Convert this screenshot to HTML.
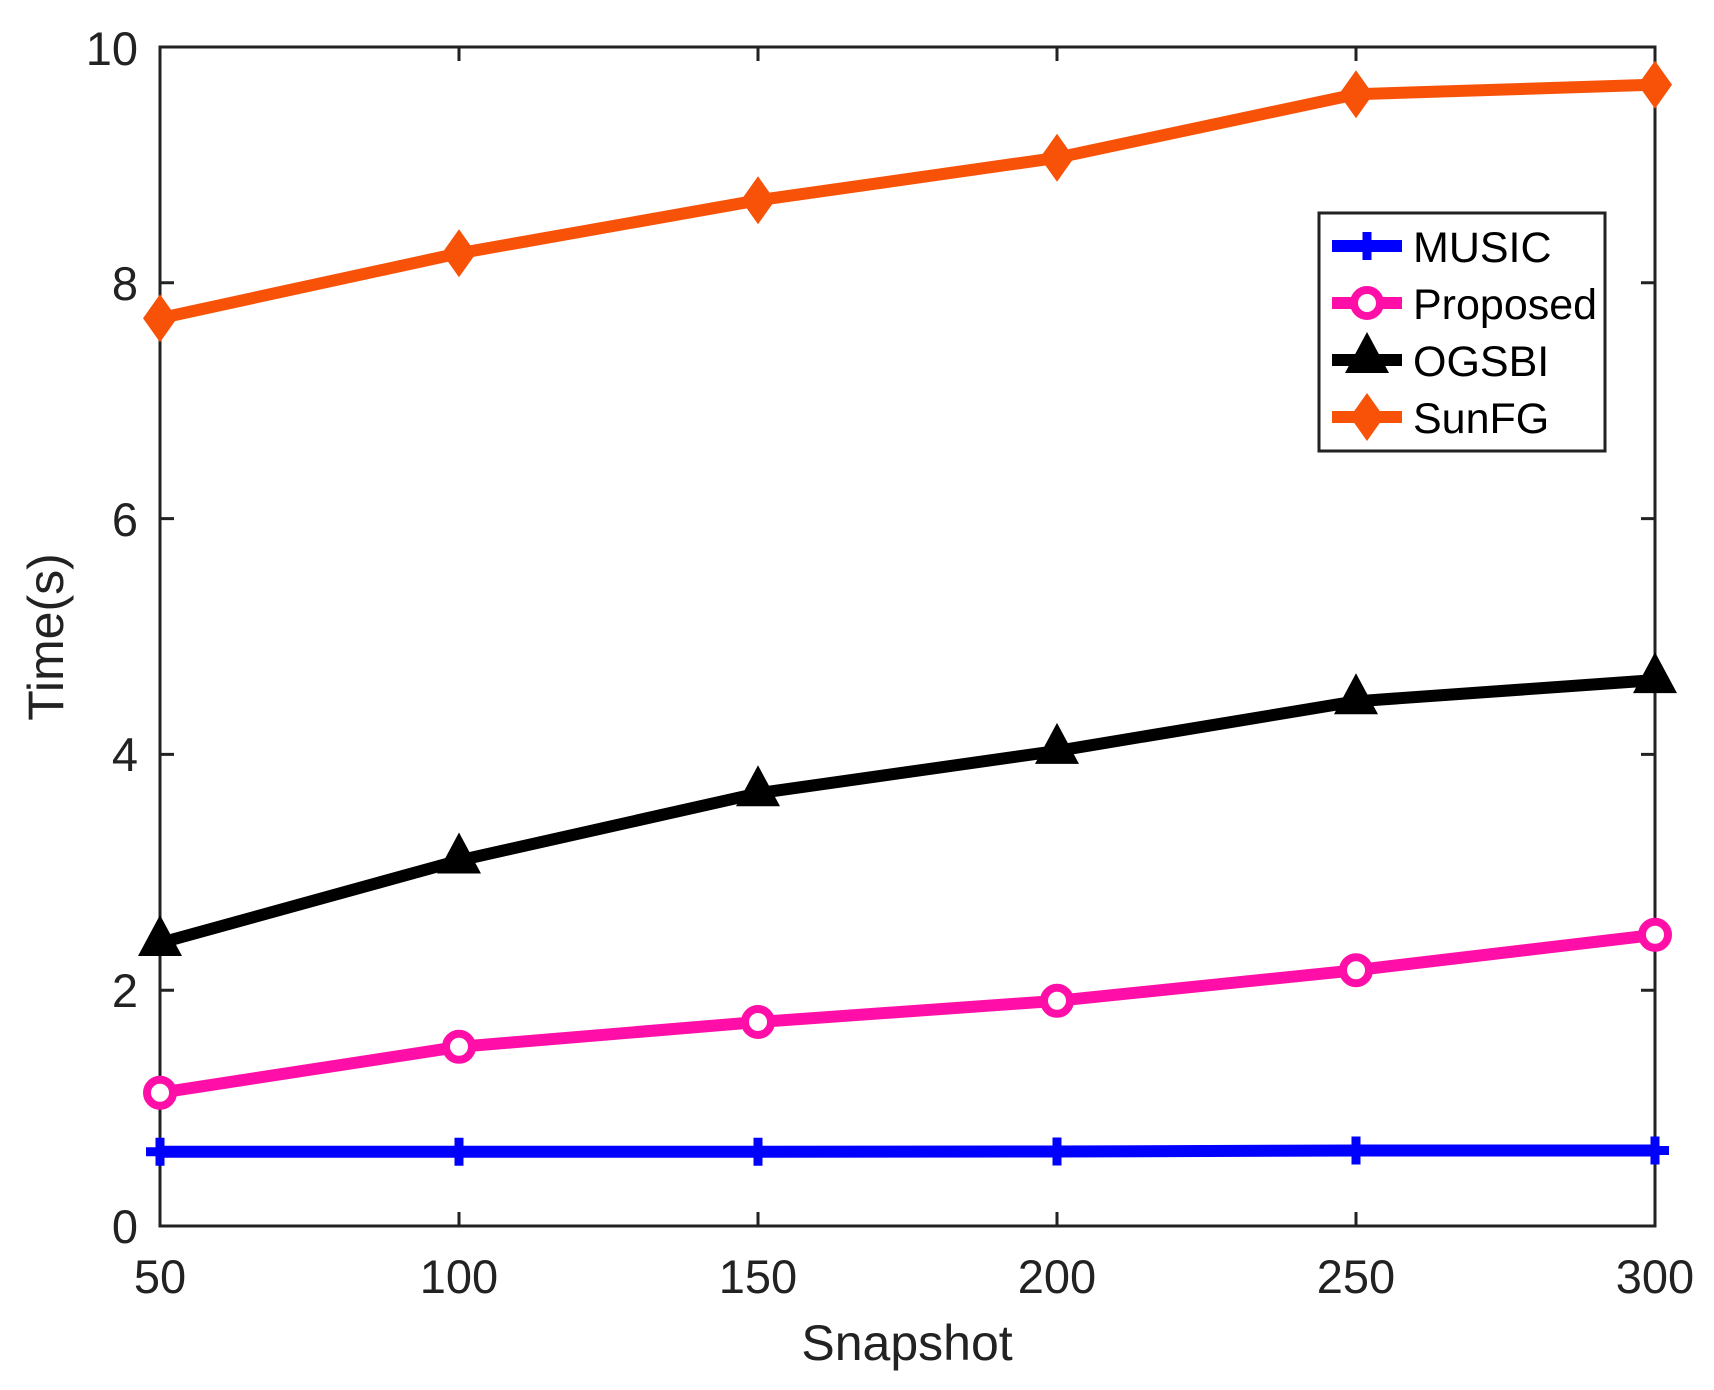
<!DOCTYPE html>
<html><head><meta charset="utf-8"><style>
html,body{margin:0;padding:0;background:#fff;}
svg{display:block;font-family:"Liberation Sans",Arial,sans-serif;}
</style></head><body>
<svg id="s" width="1714" height="1390" viewBox="0 0 1714 1390" xmlns="http://www.w3.org/2000/svg">
<rect width="1714" height="1390" fill="#fff"/>
<g stroke="#222" stroke-width="3" fill="none">
<rect x="160" y="47" width="1495" height="1179"/>
<path d="M459 1226v-14M758 1226v-14M1057 1226v-14M1356 1226v-14M459 47v14M758 47v14M1057 47v14M1356 47v14
M160 990.2h14M160 754.4h14M160 518.6h14M160 282.8h14M1655 990.2h-14M1655 754.4h-14M1655 518.6h-14M1655 282.8h-14"/>
</g>
<g fill="#222" font-size="47" text-anchor="middle">
<text x="160" y="1293">50</text><text x="459" y="1293">100</text><text x="758" y="1293">150</text>
<text x="1057" y="1293">200</text><text x="1356" y="1293">250</text><text x="1655" y="1293">300</text>
</g>
<g fill="#222" font-size="47" text-anchor="end">
<text x="138" y="1243">0</text><text x="138" y="1007">2</text><text x="138" y="771">4</text>
<text x="138" y="536">6</text><text x="138" y="300">8</text><text x="138" y="65">10</text>
</g>
<text x="907" y="1360" font-size="50" text-anchor="middle" fill="#222">Snapshot</text>
<text transform="translate(63,637) rotate(-90)" font-size="50" text-anchor="middle" fill="#222">Time(s)</text>
<g id="data"></g>
<rect x="1319" y="213" width="286" height="238" fill="#fff" stroke="#222" stroke-width="3"/>
<g id="leg"></g>
<g font-size="43" fill="#000">
<text x="1413" y="262">MUSIC</text><text x="1413" y="319">Proposed</text>
<text x="1413" y="376">OGSBI</text><text x="1413" y="433">SunFG</text>
</g>
</svg>
<script>
var NS="http://www.w3.org/2000/svg";
function el(p,t,a){var e=document.createElementNS(NS,t);for(var k in a)e.setAttribute(k,a[k]);p.appendChild(e);return e;}
var xs=[160,459,758,1057,1356,1655];
var series=[
 {c:"#0000ff",m:"plus",y:[1151.7,1151.7,1151.7,1151.5,1150.5,1150.5]},
 {c:"#ff0fa8",m:"circ",y:[1092.8,1046.8,1022.0,1000.8,970.2,934.8]},
 {c:"#000000",m:"tri",y:[943.0,860.5,793.3,750.9,701.3,680.1]},
 {c:"#f75208",m:"dia",y:[318.2,253.3,200.3,157.8,94.2,84.7]}];
function marker(g,m,c,x,y){
 if(m=="plus"){el(g,"path",{d:"M"+(x-14)+" "+y+"h28M"+x+" "+(y-14)+"v28",stroke:c,"stroke-width":9,fill:"none"});}
 if(m=="circ"){el(g,"circle",{cx:x,cy:y,r:13,fill:"#fff",stroke:c,"stroke-width":8});}
 if(m=="tri"){el(g,"path",{d:"M"+x+" "+(y-28)+"L"+(x+22)+" "+(y+13)+"L"+(x-22)+" "+(y+13)+"Z",fill:c});}
 if(m=="dia"){el(g,"path",{d:"M"+x+" "+(y-24)+"L"+(x+17)+" "+y+"L"+x+" "+(y+24)+"L"+(x-17)+" "+y+"Z",fill:c});}
}
var d=document.getElementById("data"),L=document.getElementById("leg");
series.forEach(function(s,i){
 var pts=xs.map(function(x,j){return x+","+s.y[j];}).join(" ");
 el(d,"polyline",{points:pts,fill:"none",stroke:s.c,"stroke-width":12,"stroke-linejoin":"round"});
 xs.forEach(function(x,j){marker(d,s.m,s.c,x,s.y[j]);});
 var ly=[246,303,360,417][i];
 el(L,"line",{x1:1332,y1:ly,x2:1402,y2:ly,stroke:s.c,"stroke-width":12});
 marker(L,s.m,s.c,1367,ly);
});
</script>
</body></html>
